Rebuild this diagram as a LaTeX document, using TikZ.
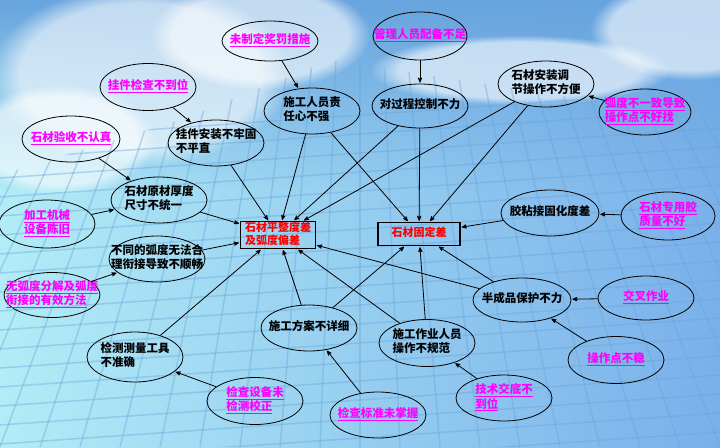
\documentclass[tikz,border=0pt]{standalone}
\usepackage{fontspec}
\setmainfont{Noto Sans CJK SC}
\usepackage{tikz}
\usetikzlibrary{arrows}
\usetikzlibrary{shapes.geometric}
\usetikzlibrary{fadings}
\definecolor{causeMagenta}{RGB}{255,0,255}
\definecolor{bgLeft}{RGB}{178,236,246}
\definecolor{bgRight}{RGB}{122,176,234}
\definecolor{skyTop}{RGB}{104,164,222}
\definecolor{gridBlue}{RGB}{104,164,218}
\newcommand{\causeText}[1]{\makebox[0pt]{\begin{tabular}{@{}l@{}}#1\end{tabular}}}
\newcommand{\rootLine}[1]{\underline{#1}}

\begin{document}
\begin{tikzpicture}[x=1pt,y=-1pt,>=stealth',shorten >=1pt,line width=0.8pt,
  font=\fontsize{11.5}{14}\selectfont\bfseries,
  cause/.style={ellipse,draw,minimum width=96pt,minimum height=46pt,inner sep=0pt},
  rootcause/.style={cause,text=causeMagenta},
  problem/.style={rectangle,draw,line width=1.3pt,text=red,inner sep=0pt,
    font=\fontsize{11}{12.5}\selectfont\bfseries}]
  \useasboundingbox (0,0) rectangle (720,447);
  % background: sky, clouds and floor grid
  \begin{scope}[-,shorten >=0pt]
    \fill[left color=bgLeft,right color=bgRight] (0,0) rectangle (720,447);
    \fill[skyTop,path fading=south] (0,0) rectangle (720,190);
    \foreach \cx/\cy/\rx/\ry in {140/75/150/90, 60/140/95/55, 260/35/110/55, 690/30/100/50, 520/70/150/35}
      \fill[white,opacity=.6,path fading=circle with fuzzy edge 20 percent] (\cx,\cy) ellipse ({\rx} and {\ry});
    \begin{scope}
      \clip (0,175) -- (180,120) -- (330,60) -- (720,120) -- (720,447) -- (0,447) -- cycle;
      \foreach \k in {-30,...,30}
        \draw[gridBlue,opacity=.4,line width=1.5pt] (360+\k*24,60) -- (360+\k*40,447);
      \foreach \k in {0,...,20}
        \draw[gridBlue,opacity=.4,line width=1.5pt] (0,140+\k*19) -- (720,90+\k*19);
    \end{scope}
  \end{scope}

  % the two problems
  \node[problem,minimum width=75pt,minimum height=27pt] (flat) at (278,235) {\causeText{石材平整度差\\及弧度偏差}};
  \node[problem,minimum width=82pt,minimum height=23pt] (fix) at (419,234) {\causeText{石材固定差}};

  % direct causes
  \node[cause] (respons) at (312,111) {\causeText{施工人员责\\任心不强}};
  \node[cause,minimum height=44pt] (procCtrl) at (420,106) {\causeText{对过程控制不力}};
  \node[cause] (adjOp) at (546,84) {\causeText{石材安装调\\节操作不方便}};
  \node[cause] (hangInst) at (216,143) {\causeText{挂件安装不牢固\\不平直}};
  \node[cause] (thick) at (159,200) {\causeText{石材原材厚度\\尺寸不统一}};
  \node[cause,minimum width=98pt] (glue) at (550,213) {\causeText{胶粘接固化度差}};
  \node[cause] (arcJoin) at (157,259) {\causeText{不同的弧度无法合\\理衔接导致不顺畅}};
  \node[cause,minimum width=98pt,minimum height=44pt] (protect) at (522,300) {\causeText{半成品保护不力}};
  \node[cause] (plan) at (309,328) {\causeText{施工方案不详细}};
  \node[cause,minimum height=47pt] (workers) at (427,343) {\causeText{施工作业人员\\操作不规范}};
  \node[cause,minimum height=50pt] (tool) at (135,357) {\causeText{检测测量工具\\不准确}};

  % root causes
  \node[rootcause,minimum height=40pt] (noReward) at (270,41) {\causeText{\rootLine{未制定奖罚措施}}};
  \node[rootcause,minimum width=94pt,minimum height=48pt] (lackStaff) at (420,36) {\causeText{\rootLine{管理人员配备不足}}};
  \node[rootcause,minimum height=47pt] (hangCheck) at (148,87) {\causeText{\rootLine{挂件检查不到位}}};
  \node[rootcause,minimum width=92pt] (arcMis) at (645,112) {\causeText{\rootLine{弧度不一致导致}\\\rootLine{操作点不好找}}};
  \node[rootcause,minimum width=98pt] (accept) at (71,139) {\causeText{\rootLine{石材验收不认真}}};
  \node[rootcause,minimum height=48pt] (machine) at (47,224) {\causeText{\rootLine{加工机械}\\\rootLine{设备陈旧}}};
  \node[rootcause,minimum width=94pt,minimum height=48pt] (glueQ) at (668,216) {\causeText{\rootLine{石材专用胶}\\\rootLine{质量不好}}};
  \node[rootcause,minimum height=45pt] (noMethod) at (52,295) {\causeText{\rootLine{无弧度分解及弧度}\\\rootLine{衔接的有效方法}}};
  \node[rootcause,minimum height=44pt] (cross) at (646,298) {\causeText{\rootLine{交叉作业}}};
  \node[rootcause,minimum height=47pt] (opPoint) at (616,360) {\causeText{\rootLine{操作点不稳}}};
  \node[rootcause,minimum height=47pt] (calib) at (255,401) {\causeText{\rootLine{检查设备未}\\\rootLine{检测校正}}};
  \node[rootcause] (disclose) at (504,398) {\causeText{\rootLine{技术交底不}\\\rootLine{到位}}};
  \node[rootcause] (standard) at (378,415) {\causeText{\rootLine{检查标准未掌握}}};

  \path[->] (noReward) edge (respons)
  (lackStaff) edge (procCtrl)
  (hangCheck) edge (hangInst)
  (accept) edge (thick)
  (machine) edge (thick)
  (noMethod) edge (arcJoin)
  (arcMis) edge (adjOp)
  (glueQ) edge (glue)
  (cross) edge (protect)
  (opPoint) edge (protect)
  (calib) edge (tool)
  (disclose) edge (workers)
  (standard) edge (plan);

  \path[->] (hangInst) edge (flat)
  (respons) edge (flat)
  (respons) edge (fix)
  (procCtrl) edge (flat)
  (procCtrl) edge (fix)
  (adjOp) edge (flat)
  (adjOp) edge (fix)
  (thick) edge (flat)
  (arcJoin) edge (flat)
  (tool) edge (flat)
  (plan) edge (flat)
  (plan) edge (fix)
  (workers) edge (flat)
  (workers) edge (fix)
  (protect) edge (flat)
  (protect) edge (fix)
  (glue) edge (fix);
\end{tikzpicture}
\end{document}
